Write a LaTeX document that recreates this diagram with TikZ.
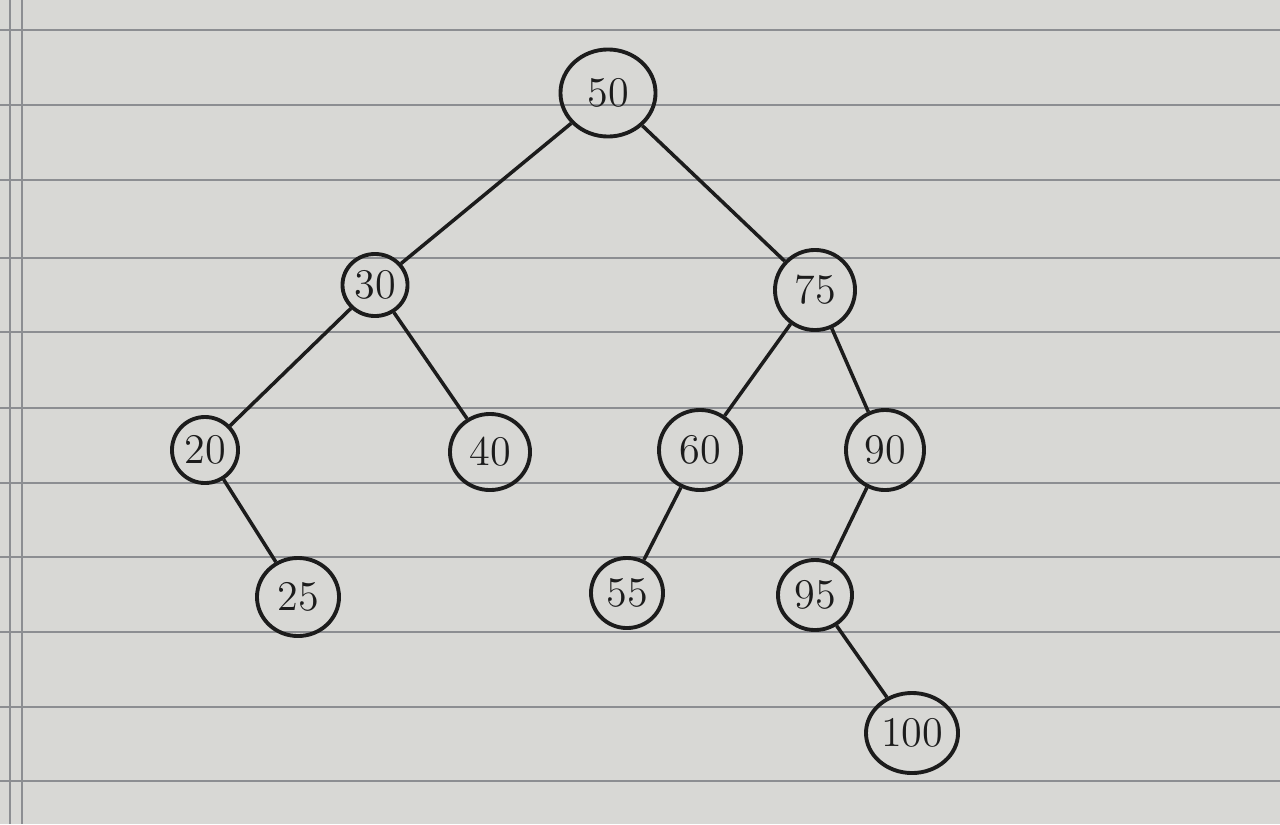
\documentclass[tikz,border=0pt]{standalone}
\usepackage{tikz}
\usetikzlibrary{shapes.geometric}
\definecolor{paper}{HTML}{D8D8D5}
\definecolor{ruleln}{HTML}{8C8E92}
\definecolor{ink}{HTML}{1C1C1C}

\begin{document}
\begin{tikzpicture}[x=0.01cm, y=-0.01cm, line width=1pt,
    treenode/.style={ellipse, draw=ink, text=ink, line width=1.1pt, inner sep=0pt, font=\large},
    edge/.style={draw=ink, line width=1pt}]
		% paper
		\fill[paper] (0,0) rectangle (1280,824);
		\useasboundingbox (0,0) rectangle (1280,824);
		\foreach \y in {30,105,180,258,332,408,483,557,632,707,781}
			\draw[ruleln, line width=0.8pt] (0,\y) -- (1280,\y);
		\draw[ruleln, line width=0.7pt] (10,0) -- (10,824);
		\draw[ruleln, line width=0.7pt] (22,0) -- (22,824);
		% nodes
		\node[treenode, minimum width=0.95cm, minimum height=0.87cm] (n50) at (608,93) {50};
		\node[treenode, minimum width=0.65cm, minimum height=0.62cm] (n30) at (375,285) {30};
		\node[treenode, minimum width=0.80cm, minimum height=0.80cm] (n75) at (815,290) {75};
		\node[treenode, minimum width=0.66cm, minimum height=0.66cm] (n20) at (205,450) {20};
		\node[treenode, minimum width=0.80cm, minimum height=0.76cm] (n40) at (490,452) {40};
		\node[treenode, minimum width=0.82cm, minimum height=0.80cm] (n60) at (700,450) {60};
		\node[treenode, minimum width=0.78cm, minimum height=0.80cm] (n90) at (885,450) {90};
		\node[treenode, minimum width=0.82cm, minimum height=0.78cm] (n25) at (298,597) {25};
		\node[treenode, minimum width=0.72cm, minimum height=0.70cm] (n55) at (627,593) {55};
		\node[treenode, minimum width=0.74cm, minimum height=0.70cm] (n95) at (815,595) {95};
		\node[treenode, minimum width=0.92cm, minimum height=0.80cm] (n100) at (912,733) {100};
		% edges
		\draw[edge] (n50) -- (n30);
		\draw[edge] (n50) -- (n75);
		\draw[edge] (n30) -- (n20);
		\draw[edge] (n30) -- (n40);
		\draw[edge] (n20) -- (n25);
		\draw[edge] (n75) -- (n60);
		\draw[edge] (n75) -- (n90);
		\draw[edge] (n60) -- (n55);
		\draw[edge] (n90) -- (n95);
		\draw[edge] (n95) -- (n100);
	\end{tikzpicture}
\end{document}
